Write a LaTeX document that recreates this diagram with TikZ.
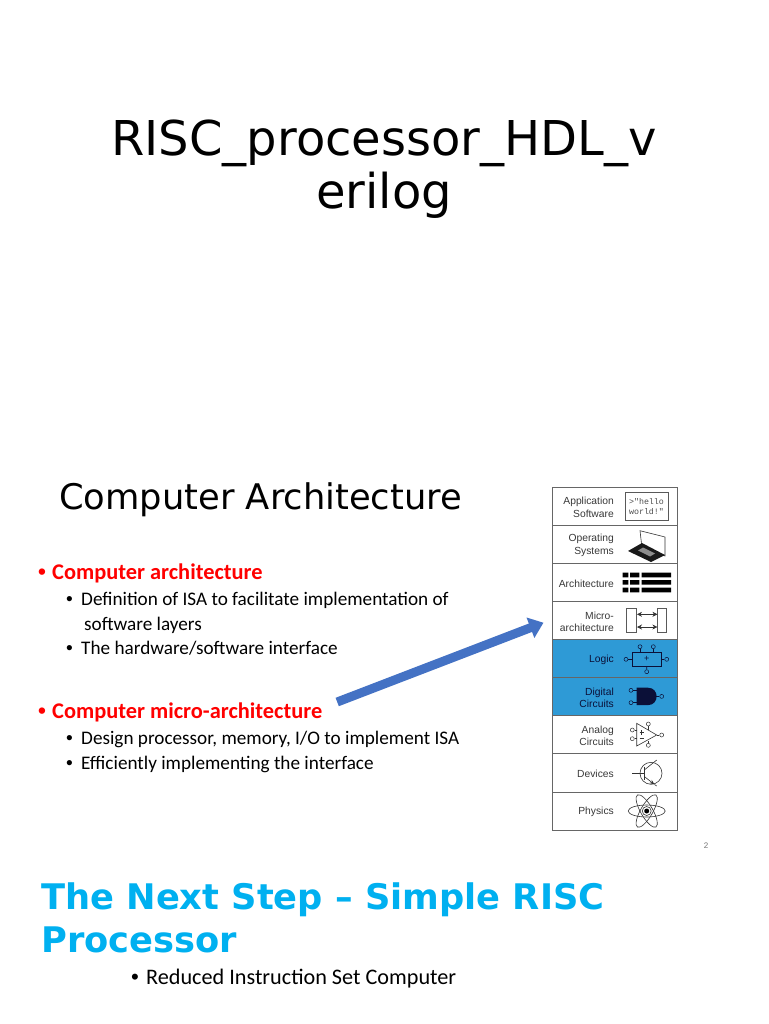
\documentclass[tikz,border=0pt]{standalone}
\usepackage{fontspec}
\setmainfont{Carlito}
\newfontfamily\titlefont{DejaVu Sans}
\newfontfamily\stackfont{Liberation Sans}
\newfontfamily\hellofont{Liberation Mono}
\usepackage{tikz}
\usetikzlibrary{positioning, arrows.meta}

\definecolor{stackblue}{HTML}{2E9AD6}
\definecolor{stacknavy}{HTML}{0B1038}
\definecolor{stackline}{HTML}{666666}
\definecolor{arrowblue}{HTML}{4472C4}
\definecolor{stepblue}{HTML}{00B0F0}

\newcommand{\redmark}{\makebox[14pt][l]{\stackfont\bfseries •}}
\newcommand{\blackmark}{\makebox[15pt][l]{\stackfont •}}

\tikzset{
  slidetext/.style={inner sep=0pt, anchor=base west},
  redpoint/.style={slidetext, text=red, font=\fontsize{22.4}{24}\selectfont\bfseries},
  blackpoint/.style={slidetext, font=\fontsize{19.2}{24}\selectfont},
  layer/.style={draw=stackline, line width=0.7pt, minimum width=125pt, minimum height=38.05pt, inner sep=0pt, outer sep=0pt},
  bluelayer/.style={layer, fill=stackblue},
  layertext/.style={inner sep=0pt, anchor=east, align=right, yshift=-1pt, text=black!78, font=\fontsize{10.3}{12.6}\stackfont},
  icon/.style={draw=black!80, line width=0.6pt},
  pin/.style={draw=black!80, line width=0.5pt, circle, inner sep=0pt, minimum size=4pt},
}

\begin{document}
\begin{tikzpicture}[x=1pt, y=-1pt]
  \useasboundingbox (0,0) rectangle (768,1024);

  % top slide
  \node[align=center, inner sep=0pt, font=\fontsize{48}{53}\titlefont] (title) at (384,169) {RISC\_processor\_HDL\_v\\erilog};

  % second slide
  \node[slidetext, font=\fontsize{35.3}{40}\titlefont] (heading) at (59,509) {Computer Architecture};
  \node[redpoint] (archpoint) at (38,579) {\redmark Computer architecture};
  \node[blackpoint] (isa) at (66,605) {\blackmark Definition of ISA to facilitate implementation of};
  \node[blackpoint] (layers) at (84,630) {software layers};
  \node[blackpoint] (interface) at (66,654) {\blackmark The hardware/software interface};
  \node[redpoint] (micropoint) at (38,718) {\redmark Computer micro-architecture};
  \node[blackpoint] (design) at (66,744) {\blackmark Design processor, memory, I/O to implement ISA};
  \node[blackpoint] (efficient) at (66,769) {\blackmark Efficiently implementing the interface};
  \node[inner sep=0pt, text=black!55, font=\fontsize{8}{9}\stackfont] (pagenum) at (706,846) {2};

  % abstraction stack
  \node[layer] (application) at (614.5,506.5) {};
  \node[layer, below=0pt of application] (operating) {};
  \node[layer, below=0pt of operating] (architecture) {};
  \node[layer, below=0pt of architecture] (micro) {};
  \node[bluelayer, below=0pt of micro] (logic) {};
  \node[bluelayer, below=0pt of logic] (digital) {};
  \node[layer, below=0pt of digital] (analog) {};
  \node[layer, below=0pt of analog] (devices) {};
  \node[layer, below=0pt of devices] (physics) {};

  \node[layertext] (applicationtext) at ([xshift=62pt]application.west) {Application\\Software};
  \node[layertext] (operatingtext) at ([xshift=62pt]operating.west) {Operating\\Systems};
  \node[layertext] (architecturetext) at ([xshift=62pt]architecture.west) {Architecture};
  \node[layertext] (microtext) at ([xshift=62pt]micro.west) {Micro-\\architecture};
  \node[layertext, text=stacknavy] (logictext) at ([xshift=62pt]logic.west) {Logic};
  \node[layertext, text=stacknavy] (digitaltext) at ([xshift=62pt]digital.west) {Digital\\Circuits};
  \node[layertext] (analogtext) at ([xshift=62pt]analog.west) {Analog\\Circuits};
  \node[layertext] (devicestext) at ([xshift=62pt]devices.west) {Devices};
  \node[layertext] (physicstext) at ([xshift=62pt]physics.west) {Physics};

  % stack icons
  \node[icon, draw=black!65, minimum width=43pt, minimum height=28pt, inner sep=0pt, align=left, text=black!70, font=\fontsize{8.3}{10.5}\hellofont] (hello) at (646.5,506.7) {>"hello\\world!"};

  \draw[icon, fill=white] (640,530.7) -- (665,537) -- (665,556) -- (642,548) -- cycle;
  \fill[black!90] (628,551) -- (642,543) -- (665,555) -- (651,562) -- cycle;
  \fill[black!45] (638,550.5) -- (643,547.5) -- (655,553.5) -- (650,556.5) -- cycle;

  \fill[black] (622.7,572.7) rectangle (628.3,577.3) (630,572.7) rectangle (639.3,577.3) (641.7,572.7) rectangle (671,577.3);
  \fill[black] (622.7,580) rectangle (628.3,584.7) (630,580) rectangle (639.3,584.7) (641.7,580) rectangle (671,584.7);
  \fill[black] (622.7,587.7) rectangle (628.3,592.3) (630,587.7) rectangle (639.3,592.3) (641.7,587.7) rectangle (671,592.3);

  \node[icon, draw=black!65, minimum width=10pt, minimum height=24.5pt, inner sep=0pt] (microleft) at (631.7,620.5) {};
  \node[icon, draw=black!65, minimum width=9pt, minimum height=24.5pt, inner sep=0pt] (microright) at (662.2,620.5) {};
  \draw[icon, {Stealth[length=5pt, width=5pt]}-{Stealth[length=5pt, width=5pt]}] ([yshift=6.2pt]microleft.east) -- ([yshift=6.2pt]microright.west);
  \draw[icon, {Stealth[length=5pt, width=5pt]}-{Stealth[length=5pt, width=5pt]}] ([yshift=-6.5pt]microleft.east) -- ([yshift=-6.5pt]microright.west);

  \node[icon, draw=stacknavy, minimum width=28.3pt, minimum height=13.3pt, inner sep=0pt, text=stacknavy, font=\fontsize{9}{9}\stackfont] (adder) at (646.8,659.3) {+};
  \node[pin, draw=stacknavy] (addera) at (626,659.3) {};
  \node[pin, draw=stacknavy] (adderb) at (666.7,659.3) {};
  \node[pin, draw=stacknavy] (adderc) at (640,646.7) {};
  \node[pin, draw=stacknavy] (adderd) at (653.3,646.7) {};
  \node[pin, draw=stacknavy] (addere) at (646.7,671.7) {};
  \draw[icon, draw=stacknavy] (addera) -- (adder.west);
  \draw[icon, draw=stacknavy] (adderb) -- (adder.east);
  \draw[icon, draw=stacknavy] (adderc) -- (640,652.7);
  \draw[icon, draw=stacknavy] (adderd) -- (653.3,652.7);
  \draw[icon, draw=stacknavy] (addere) -- (adder.south);

  \fill[stacknavy] (636.7,687.7) -- (648,687.7) .. controls (659.5,687.7) and (659.5,705.1) .. (648,705.1) -- (636.7,705.1) -- cycle;
  \node[pin, draw=stacknavy] (gatea) at (631,690.3) {};
  \node[pin, draw=stacknavy] (gateb) at (631,702.7) {};
  \node[pin, draw=stacknavy] (gatec) at (661.7,696.4) {};
  \draw[icon, draw=stacknavy] (gatea) -- (636.7,690.3);
  \draw[icon, draw=stacknavy] (gateb) -- (636.7,702.7);
  \draw[icon, draw=stacknavy] (gatec) -- (656,696.4);

  \draw[icon] (636.7,723.3) -- (636.7,746) -- (656.7,735) -- cycle;
  \node[pin] (ampa) at (632.3,730) {};
  \node[pin] (ampb) at (632.3,738.7) {};
  \node[pin] (ampc) at (661.7,735) {};
  \node[pin] (ampd) at (648.3,724) {};
  \node[pin] (ampe) at (648.3,745.3) {};
  \draw[icon] (ampa) -- (636.7,730) (ampb) -- (636.7,738.7) (ampc) -- (656.7,735);
  \draw[icon] (ampd) -- (648.3,729.5) (ampe) -- (648.3,740.5);
  \draw[icon] (639.5,732.3) -- (644,732.3) (641.7,730) -- (641.7,734.6) (639.5,738.7) -- (644,738.7);

  \draw[icon] (651,773.3) circle[radius=11pt];
  \draw[icon] (632.3,773.3) -- (644.3,773.3);
  \draw[icon, line width=0.9pt] (644.3,766.7) -- (644.3,780);
  \draw[icon] (644.3,770) -- (656.7,760);
  \draw[icon, -{Stealth[length=5pt]}] (644.3,776.5) -- (654.5,784.5);
  \draw[icon] (654.5,784.5) -- (656.7,786);

  \draw[icon] (646.7,811) ellipse[x radius=18.5pt, y radius=6pt];
  \draw[icon, rotate around={60:(646.7,811)}] (646.7,811) ellipse[x radius=18.5pt, y radius=6pt];
  \draw[icon, rotate around={-60:(646.7,811)}] (646.7,811) ellipse[x radius=18.5pt, y radius=6pt];
  \draw[icon, fill=white] (646.7,811) circle[radius=4.5pt];
  \fill[black] (646.7,811) circle[radius=2.5pt];

  % arrow to the stack
  \coordinate (arrowtail) at (337.2,702);
  \coordinate (arrowtip) at (543.5,622.7);
  \draw[arrowblue, line width=9pt, -{Triangle[length=14pt, width=21pt]}] (arrowtail) -- (arrowtip);

  % third slide
  \node[slidetext, text=stepblue, font=\fontsize{35.25}{42}\titlefont\bfseries] (nextstep) at (41,909) {The Next Step – Simple RISC};
  \node[slidetext, text=stepblue, font=\fontsize{35.25}{42}\titlefont\bfseries] (processor) at (41,952) {Processor};
  \node[slidetext, font=\fontsize{22.2}{26}\selectfont] (reduced) at (131,984) {\makebox[15pt][l]{\stackfont •}Reduced Instruction Set Computer};
\end{tikzpicture}
\end{document}
